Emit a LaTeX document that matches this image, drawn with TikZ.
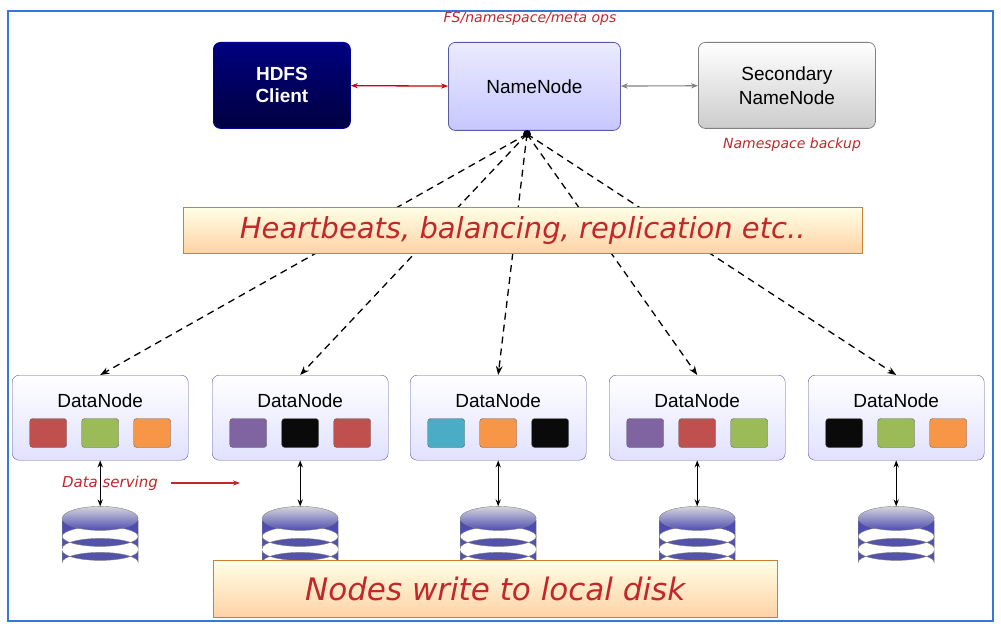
\documentclass[tikz,border=0pt]{standalone}
\usepackage{fontspec}
\setmainfont{Liberation Sans}
\newfontfamily\hand{DejaVu Sans}
\usetikzlibrary{arrows.meta,shapes.geometric,calc}
\definecolor{cred}{HTML}{C0504D}\definecolor{cgreen}{HTML}{9BBB59}\definecolor{corange}{HTML}{F79646}
\definecolor{cpurple}{HTML}{8064A2}\definecolor{cteal}{HTML}{4BACC6}\definecolor{cblk}{HTML}{0A0A0A}
\definecolor{lab}{HTML}{C0282A}
\begin{document}
\begin{tikzpicture}[x=1pt,y=-1pt,
 box/.style={draw=#1!60!black,rounded corners=7pt,line width=0.8pt,minimum width=176pt,minimum height=86pt,anchor=north west},
 dn/.style={draw=blue!30!gray,rounded corners=7pt,top color=white,bottom color=blue!12,minimum width=176pt,minimum height=85pt,anchor=north west},
 sq/.style={draw=black!60,rounded corners=3pt,minimum width=37pt,minimum height=29pt,fill=#1},
 band/.style={draw=orange!60!gray,top color=yellow!10,bottom color=orange!35,anchor=north west},
 lbl/.style={text=lab,font=\hand\itshape},
 hbdash/.style={line width=1.3pt,-{Stealth[length=9pt]},dash pattern=on 7pt off 5pt},
 bi/.style={line width=1.3pt,{Stealth[length=7pt]}-{Stealth[length=7pt]}}]
\useasboundingbox (0,0) rectangle (1001,631);
\draw[line width=2pt,draw=cteal!70!blue] (8,11) rectangle (993,621);
\node[box=blue,minimum width=137pt,minimum height=86pt,top color=blue!50!black,bottom color=blue!25!black,text=white,font=\bfseries\fontsize{19}{22}\selectfont,align=center] (client) at (213,42) {HDFS\\Client};
\node[box=blue,minimum width=172pt,minimum height=88pt,top color=blue!8,bottom color=blue!22,draw=blue!30!gray,font=\fontsize{19}{22}\selectfont] (nn) at (448,42) {NameNode};
\node[box=gray,minimum width=177pt,minimum height=86pt,top color=white,bottom color=gray!40,draw=gray,font=\fontsize{19}{24}\selectfont,align=center] (snn) at (698,42) {Secondary\\NameNode};
\draw[bi,draw=red!80!black] (client) -- (nn);
\draw[bi,draw=gray,line width=1.1pt] (nn) -- (snn);
\node[lbl,font=\hand\itshape\fontsize{14}{16}\selectfont] (fs) at (530,19) {FS/namespace/meta ops};
\node[lbl,font=\hand\itshape\fontsize{14}{16}\selectfont] (nsb) at (792,145) {Namespace backup};
\coordinate (src) at (527,134);
\fill (src) circle (4pt);
\foreach \i/\x/\a/\b/\c in {1/12/cred/cgreen/corange,2/212/cpurple/cblk/cred,3/410/cteal/corange/cblk,4/609/cpurple/cred/cgreen,5/808/cblk/cgreen/corange}{
 \node[dn] (d\i) at (\x,375) {};
 \node[font=\fontsize{19}{22}\selectfont] at ($(d\i.north)+(0,26)$) {DataNode};
 \node[sq=\a] at ($(d\i.north)+(-52,58)$) {};
 \node[sq=\b] at ($(d\i.north)+(0,58)$) {};
 \node[sq=\c] at ($(d\i.north)+(52,58)$) {};
}
\foreach \i in {1,...,5}{
 \begin{scope}[shift={($(d\i.south)+(0,70)$)}]
 \foreach \yy in {32,18}{\filldraw[fill=blue!35!gray,draw=gray] (-38,\yy-12) -- (-38,\yy) arc[start angle=180,end angle=360,x radius=38,y radius=10] -- (38,\yy-12) arc[start angle=0,end angle=180,x radius=38,y radius=10];}
 \filldraw[fill=gray!60!blue,draw=gray] (-38,-10) -- (-38,6) arc[start angle=180,end angle=360,x radius=38,y radius=10] -- (38,-10) -- cycle;
 \shade[top color=blue!8!gray!30,bottom color=blue!40!gray,draw=gray] (0,-12) ellipse[x radius=38,y radius=12];
 \coordinate (k\i) at (0,-24);
 \end{scope}
 \draw[bi] (d\i.south) -- (k\i);
 \draw[hbdash] (src) -- (d\i.north);
}
\node[band,minimum width=679pt,minimum height=46pt] (hb) at (183,207) {};
\node[lbl,font=\hand\itshape\fontsize{29}{32}\selectfont] at (hb.center) {Heartbeats, balancing, replication etc..};
\node[band,minimum width=564pt,minimum height=57pt] (nw) at (213,560) {};
\node[lbl,font=\hand\itshape\fontsize{31}{34}\selectfont] at (nw.center) {Nodes write to local disk};
\node[lbl,font=\hand\itshape\fontsize{15}{17}\selectfont] (ds) at (110,483) {Data serving};
\coordinate (dse) at (240,483);
\draw[-{Stealth[length=7pt]},draw=lab,line width=1.2pt] ($(ds.east)+(10,0)$) -- (dse);
\end{tikzpicture}
\end{document}
